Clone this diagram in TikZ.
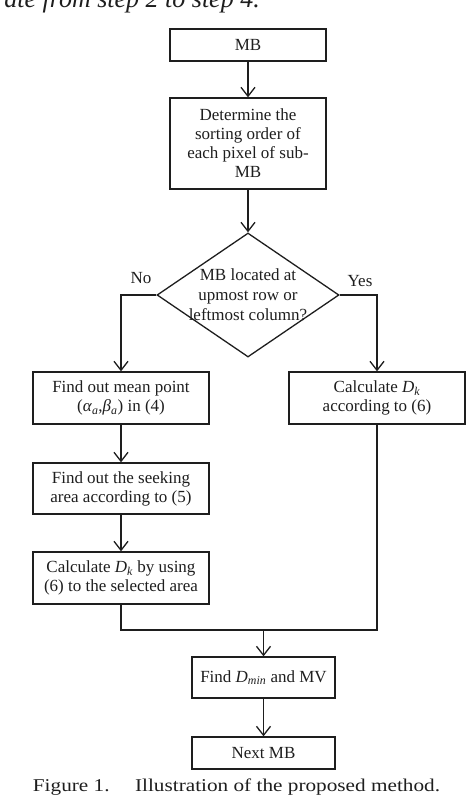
\documentclass[tikz,border=0pt]{standalone}
\usepackage{fontspec}
\setmainfont{Liberation Serif}
\usetikzlibrary{shapes.geometric,arrows.meta}
\newcommand\mysub[1]{\textsubscript{\textit{#1}}}
\definecolor{ink}{HTML}{1E1E1E}
\tikzset{
  box/.style={draw=ink, line width=1.3pt, rectangle, inner sep=0pt, align=center,
    font=\fontsize{17}{19}\selectfont, text=ink},
  dia/.style={draw=ink, line width=1.3pt, diamond, inner sep=0pt,
    minimum width=182pt, minimum height=124pt},
  txt/.style={align=center, font=\fontsize{17}{20}\selectfont, text=ink, inner sep=0pt},
  conn/.style={draw=ink, line width=1.3pt},
  arr/.style={conn, -{Straight Barb[length=9pt,width=14pt,line width=1.3pt]}}
}
\begin{document}
\begin{tikzpicture}[x=1pt,y=-1pt]
\useasboundingbox (0,0) rectangle (474,809);
% partial line of text above (cropped by the page edge)
\node[anchor=base east, inner sep=0pt, font=\fontsize{26}{28}\selectfont\itshape, text=ink] (top) at (260,7) {ate from step 2 to step 4.};
% nodes
\node[box, minimum width=156pt, minimum height=32pt] (mb) at (248,45) {MB};
\node[box, minimum width=156pt, minimum height=91pt] (det) at (248,143.5)
  {Determine the\\sorting order of\\each pixel of sub-\\MB};
\node[dia] (dec) at (248,295) {};
\node[txt] (dectext) at (248,295) {MB located at\\upmost row or\\leftmost column?};
\node[box, minimum width=176pt, minimum height=52pt] (mean) at (121,398)
  {Find out mean point\\(\textit{α}\mysub{a},\textit{β}\mysub{a}) in (4)};
\node[box, minimum width=176pt, minimum height=51pt] (seek) at (121,488.5)
  {Find out the seeking\\area according to (5)};
\node[box, minimum width=176pt, minimum height=52pt] (calcL) at (121,578)
  {Calculate \textit{D}\mysub{k} by using\\(6) to the selected area};
\node[box, minimum width=176pt, minimum height=52pt] (calcR) at (377,398)
  {Calculate \textit{D}\mysub{k}\\according to (6)};
\coordinate (join) at (263.5,630);
\node[box, minimum width=143pt, minimum height=41pt] (dmin) at (263.5,677.5)
  {Find \textit{D}\mysub{min} and MV};
\node[box, minimum width=143pt, minimum height=32pt] (next) at (263.5,753) {Next MB};
% labels
\node[txt] (no) at (141,278) {No};
\node[txt] (yes) at (360,281) {Yes};
% caption
\node[inner sep=0pt, font=\fontsize{18}{20}\selectfont, text=ink] (cap) at (236.5,787)
  {\scalebox{1.18}[1]{Figure 1.\hspace{1.2em}Illustration of the proposed method.}};
% connectors
\draw[arr] (mb) -- (det);
\draw[arr] (det) -- (dec);
\draw[arr] (dec.west) -| (mean.north);
\draw[arr] (dec.east) -| (calcR.north);
\draw[arr] (mean) -- (seek);
\draw[arr] (seek) -- (calcL);
\draw[conn] (calcL.south) |- (join);
\draw[conn] (calcR.south) |- (join);
\draw[arr] (join) -- (dmin);
\draw[arr] (dmin) -- (next);
\end{tikzpicture}
\end{document}
